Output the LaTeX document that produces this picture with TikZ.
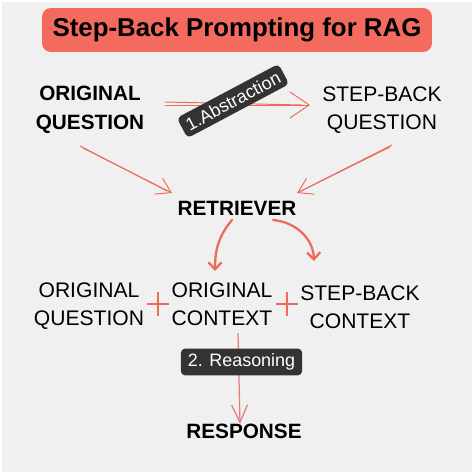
\documentclass[tikz,border=0pt]{standalone}
\usepackage{fontspec}
\setmainfont{Liberation Sans}
\usetikzlibrary{arrows.meta,calc}
\definecolor{bg}{HTML}{F0F0F0}
\definecolor{salmon}{HTML}{F36B5E}
\definecolor{arrred}{HTML}{EE6B5C}
\definecolor{pinkred}{HTML}{E97A7A}
\definecolor{darkbox}{HTML}{333333}
\begin{document}
\begin{tikzpicture}[x=0.02cm,y=-0.02cm,
  txt/.style={align=center,inner sep=0pt,font=\fontsize{12}{16.2}\selectfont},
  btxt/.style={align=center,inner sep=0pt,font=\fontsize{11.8}{16.2}\selectfont\bfseries},
  titlebox/.style={fill=salmon,rounded corners=5pt,minimum width=7.8cm,minimum height=0.88cm,inner sep=0pt,font=\fontsize{14.7}{16}\selectfont\bfseries},
  tagbox/.style={fill=darkbox,text=white,rounded corners=2.5pt,inner xsep=3pt,inner ysep=0pt,minimum height=13pt,font=\fontsize{10.2}{11}\selectfont},
  sketch/.style={draw=arrred,line width=0.55pt},
  bigtip/.style={sketch,-{Straight Barb[length=11pt,width=15pt]}},
  midtip/.style={sketch,-{Straight Barb[length=8pt,width=10pt]}},
  curvetip/.style={draw=arrred,line width=1.3pt,line cap=round,-{Straight Barb[length=4pt,width=7.5pt,line width=1.3pt]}},
  downtip/.style={draw=pinkred,line width=0.7pt,-{Straight Barb[length=10pt,width=9pt]}},
  plusline/.style={draw=arrred,line width=0.6pt}]
\useasboundingbox (0,0) rectangle (474,474);
\fill[white] (0,0) rectangle (474,474);
\fill[bg] (2,2) rectangle (472,472);

\node[titlebox] (title) at (237,30) {Step-Back Prompting for RAG};

\node[btxt] (oq) at (90,110) {ORIGINAL\\QUESTION};
\node[txt] (sq) at (382,110) {STEP-BACK\\QUESTION};
\node[btxt] (ret) at (237,208) {RETRIEVER};
\node[txt] (oq2) at (89,306) {ORIGINAL\\QUESTION};
\node[txt] (oc) at (222,304) {ORIGINAL\\CONTEXT};
\node[txt] (sc) at (360,307) {STEP-BACK\\CONTEXT};
\node[btxt] (resp) at (244,431) {RESPONSE};

% plus signs
\coordinate (p1) at (158,304);
\coordinate (p2) at (287,304);
\foreach \p in {p1,p2}{
  \draw[plusline] ($(\p)+(-11,0)$) -- ($(\p)+(11,0)$);
  \draw[plusline] ($(\p)+(0,-12)$) -- ($(\p)+(0,12)$);
}

% 1. abstraction arrow (sketchy double line)
\draw[sketch] ($(oq)+(75,-8)$) -- ($(sq)+(-80,-5)$);
\draw[bigtip] ($(oq)+(75,-5)$) -- ($(sq)+(-72,-5)$);

% to retriever
\draw[sketch] ($(oq)+(-10,36)$) -- ($(ret)+(-70,-17)$);
\draw[midtip] ($(oq)+(-7,38)$) -- ($(ret)+(-65,-15)$);
\draw[sketch] ($(sq)+(10,35)$) -- ($(ret)+(64,-17)$);
\draw[midtip] ($(sq)+(8,37)$) -- ($(ret)+(60,-15)$);

% retriever to contexts
\draw[curvetip] ($(ret)+(-5,12)$) to[out=-130,in=90] ($(oc)+(-7,-33)$);
\draw[curvetip] ($(ret)+(36,12)$) to[out=-5,in=92] ($(sc)+(-46,-46)$);

% reasoning arrow
\draw[downtip] ($(oc)+(16,29)$) -- ($(resp)+(-4,-7)$);

% tags
\node[tagbox,rotate=28] (tag1) at (233,101) {1.Abstraction};
\node[tagbox,minimum height=15.3pt,inner xsep=4pt] (tag2) at (241.5,362) {2. Reasoning};
\end{tikzpicture}
\end{document}
